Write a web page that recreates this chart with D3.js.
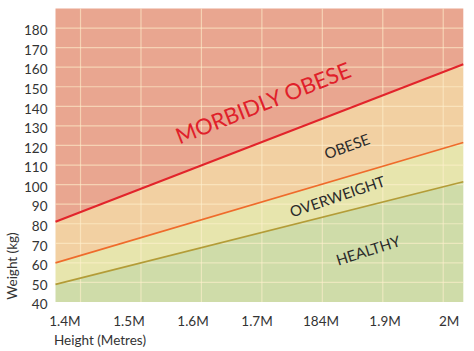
<!DOCTYPE html>
<html>
<head>
<meta charset="utf-8">
<script src="https://cdn.jsdelivr.net/npm/d3@7"></script>
<style>
  body { margin: 0; background: #fff; }
  svg { display: block; font-family: Lato, "Open Sans", sans-serif; }
</style>
</head>
<body>
<script>
// data
var heightEnds = [1.386, 2.023];       // metres at the plot edges
var healthyMax = [49, 101.5];          // top of the green zone (kg)
var overweightMax = [60, 121.5];       // top of the overweight zone
var obeseMax = [81, 161.5];            // top of the obese zone
var weightTop = 190;
var weightBottom = 40;
var heightTicks = [1.4, 1.5, 1.6, 1.7, 1.8, 1.9, 2.0];
var heightLabels = ["1.4M", "1.5M", "1.6M", "1.7M", "184M", "1.9M", "2M"];
var weightTicks = [40, 50, 60, 70, 80, 90, 100, 110, 120, 130, 140, 150,
    160, 170, 180];
var gridWeights = [50, 60, 70, 80, 90, 100, 110, 120, 130, 140, 150, 160,
    170, 180];

var width = 474, height = 351;
var plot = {left: 55.5, right: 463.3, top: 8.5, bottom: 302};

var svg = d3.select("body").append("svg")
    .attr("width", width)
    .attr("height", height);

var x = d3.scaleLinear().domain(heightEnds)
    .range([plot.left, plot.right]);
var y = d3.scaleLinear().domain([weightBottom, weightTop])
    .range([plot.bottom, plot.top]);
// the vertical grid does not sit on the labels in the original
var xGrid = d3.scalePoint().domain(heightLabels)
    .range([plot.left, plot.right]).padding(0.373).align(0.555);

var rows = heightEnds.map(function(h, i) {
    return {h: h, healthy: healthyMax[i], over: overweightMax[i],
        obese: obeseMax[i]};
});

var zones = [
    {lo: function() { return weightBottom; },
     hi: function(d) { return d.healthy; }, fill: "#cfdca9"},
    {lo: function(d) { return d.healthy; },
     hi: function(d) { return d.over; }, fill: "#e7e5ad"},
    {lo: function(d) { return d.over; },
     hi: function(d) { return d.obese; }, fill: "#f2d0a2"},
    {lo: function(d) { return d.obese; },
     hi: function() { return weightTop; }, fill: "#e9a690"}
];

zones.forEach(function(z) {
    var area = d3.area()
        .x(function(d) { return x(d.h); })
        .y0(function(d) { return y(z.lo(d)); })
        .y1(function(d) { return y(z.hi(d)); });
    svg.append("path").datum(rows)
        .attr("d", area)
        .attr("fill", z.fill);
});

// grid
svg.append("g").selectAll("line")
    .data(gridWeights)
    .enter().append("line")
    .attr("x1", plot.left).attr("x2", plot.right)
    .attr("y1", function(d) { return y(d); })
    .attr("y2", function(d) { return y(d); })
    .attr("stroke", "rgba(255,240,205,0.6)")
    .attr("stroke-width", 1.2);

svg.append("g").selectAll("line")
    .data(heightLabels)
    .enter().append("line")
    .attr("x1", function(d) { return xGrid(d); })
    .attr("x2", function(d) { return xGrid(d); })
    .attr("y1", plot.top).attr("y2", plot.bottom)
    .attr("stroke", "rgba(255,240,205,0.6)")
    .attr("stroke-width", 1.2);

// boundary lines
var bounds = [
    {key: "healthy", color: "#b39c37", w: 1.6},
    {key: "over", color: "#ef6b2b", w: 1.6},
    {key: "obese", color: "#e2242b", w: 2}
];
bounds.forEach(function(b) {
    var line = d3.line()
        .x(function(d) { return x(d.h); })
        .y(function(d) { return y(d[b.key]); });
    svg.append("path").datum(rows)
        .attr("d", line)
        .attr("fill", "none")
        .attr("stroke", b.color)
        .attr("stroke-width", b.w);
});

// zone labels
var zoneLabels = [
    {text: "MORBIDLY OBESE", h: 1.710, w: 142, angle: -21.5, size: 22,
     color: "#e0202a"},
    {text: "OBESE", h: 1.841, w: 119.8, angle: -20, size: 15,
     color: "#2a2a2a"},
    {text: "OVERWEIGHT", h: 1.826, w: 94.2, angle: -18.5, size: 15,
     color: "#2a2a2a"},
    {text: "HEALTHY", h: 1.874, w: 66.6, angle: -17.5, size: 15,
     color: "#2a2a2a"}
];
svg.append("g").selectAll("text")
    .data(zoneLabels)
    .enter().append("text")
    .attr("transform", function(d) {
        return "translate(" + x(d.h) + "," + y(d.w) + ") rotate(" +
            d.angle + ")";
    })
    .attr("text-anchor", "middle")
    .attr("dominant-baseline", "central")
    .style("font-size", function(d) { return d.size + "px"; })
    .attr("fill", function(d) { return d.color; })
    .text(function(d) { return d.text; });

// axes: no domain lines or ticks, just labels
var yAxis = d3.axisLeft(y).tickValues(weightTicks).tickSize(0)
    .tickPadding(8);
svg.append("g")
    .attr("transform", "translate(" + plot.left + ",0)")
    .call(yAxis)
    .call(function(g) { g.select(".domain").remove(); })
    .selectAll("text")
    .attr("dy", "0.5em")
    .style("font-family", "Lato, 'Open Sans', sans-serif")
    .style("font-size", "13.5px")
    .attr("fill", "#333");

var xAxis = d3.axisBottom(x).tickValues(heightTicks).tickSize(0)
    .tickPadding(14)
    .tickFormat(function(d, i) { return heightLabels[i]; });
svg.append("g")
    .attr("transform", "translate(0," + plot.bottom + ")")
    .call(xAxis)
    .call(function(g) { g.select(".domain").remove(); })
    .selectAll("text")
    .style("font-family", "Lato, 'Open Sans', sans-serif")
    .style("font-size", "13.5px")
    .attr("fill", "#333");

svg.append("text")
    .attr("transform", "translate(12,266) rotate(-90)")
    .attr("text-anchor", "middle")
    .attr("dominant-baseline", "central")
    .style("font-size", "13.5px")
    .attr("fill", "#333")
    .text("Weight (kg)");

svg.append("text")
    .attr("x", 54)
    .attr("y", 340)
    .attr("dominant-baseline", "central")
    .style("font-size", "13.5px")
    .attr("fill", "#333")
    .text("Height (Metres)");
</script>
</body>
</html>
